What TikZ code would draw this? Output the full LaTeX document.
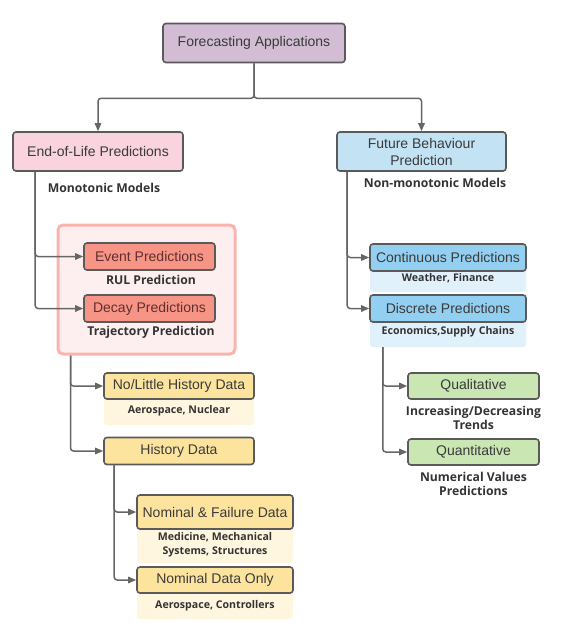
\documentclass[tikz,border=0pt]{standalone}
\usepackage{fontspec}
\setmainfont{Liberation Sans}
\newfontfamily\capfont{Open Sans}
\usetikzlibrary{arrows.meta}
\definecolor{edgec}{HTML}{5A5A5A}
\definecolor{linec}{HTML}{666666}
\definecolor{txtc}{HTML}{3A3A3A}
\definecolor{captc}{HTML}{333333}
\definecolor{purplef}{HTML}{D2BDD4}
\definecolor{pinkf}{HTML}{F9D3DD}
\definecolor{bluef}{HTML}{C3E3F5}
\definecolor{blue2f}{HTML}{93CFF0}
\definecolor{bluesub}{HTML}{E1F1FB}
\definecolor{salmonf}{HTML}{F69585}
\definecolor{grpf}{HTML}{FDEFF0}
\definecolor{grpd}{HTML}{F9B4AE}
\definecolor{yellowf}{HTML}{FDE49E}
\definecolor{creamf}{HTML}{FFF6DF}
\definecolor{greenf}{HTML}{C9E6B3}
\tikzset{
  box/.style={draw=edgec, line width=1.6pt, rounded corners=3pt, inner sep=0pt,
    align=center, text=txtc, font=\fontsize{14}{16}\selectfont},
  subbg/.style={rounded corners=3pt, inner sep=0pt},
  captxt/.style={inner sep=0pt, align=center, text=captc, font=\capfont\bfseries\fontsize{12.2}{14}\selectfont},
  subtxt/.style={inner sep=0pt, align=center, text=captc, font=\capfont\bfseries\fontsize{10.6}{14}\selectfont},
  conn/.style={draw=linec, line width=1.5pt, rounded corners=3pt,
    -{Triangle[length=8pt,width=6.5pt]}},
}
\begin{document}
\begin{tikzpicture}[x=1pt,y=-1pt]
\useasboundingbox (0,0) rectangle (576,638);
% group container
\node[draw=grpd, fill=grpf, line width=3pt, rounded corners=5pt, minimum width=177pt, minimum height=129pt, inner sep=0pt] (grp) at (146.5,289.5) {};
% top
\node[box, fill=purplef, minimum width=182pt, minimum height=39pt] (top) at (254,43) {Forecasting Applications};
\node[box, fill=pinkf, minimum width=170pt, minimum height=39pt] (eol) at (98,151.5) {End-of-Life Predictions};
\node[box, fill=bluef, minimum width=169pt, minimum height=39pt, font=\fontsize{14}{17}\selectfont] (fut) at (421.5,151.5) {Future Behaviour\\Prediction};
\node[captxt] (mono) at (104,188) {Monotonic Models};
\node[captxt] (nonmono) at (435,183) {Non-monotonic Models};
% left group
\node[box, fill=salmonf, minimum width=131pt, minimum height=27pt, text=txtc!80!red] (event) at (149.5,256.5) {Event Predictions};
\node[captxt] (rul) at (151,280) {RUL Prediction};
\node[box, fill=salmonf, minimum width=131pt, minimum height=27pt, text=txtc!80!red] (decay) at (149.5,308.5) {Decay Predictions};
\node[captxt] (traj) at (151,332) {Trajectory Prediction};
% yellow
\node[subbg, fill=creamf, minimum width=150pt, minimum height=28pt] (nlsub) at (179,411) {};
\node[box, fill=yellowf, minimum width=150pt, minimum height=26pt] (nolittle) at (179,386) {No/Little History Data};
\node[subtxt] (nltxt) at (nlsub.center) {Aerospace, Nuclear};
\node[box, fill=yellowf, minimum width=150pt, minimum height=27pt] (history) at (179,451) {History Data};
\node[subbg, fill=creamf, minimum width=156pt, minimum height=36pt] (nfsub) at (215,545) {};
\node[box, fill=yellowf, minimum width=156pt, minimum height=34pt] (nomfail) at (215,512) {Nominal \& Failure Data};
\node[subtxt] (nftxt) at (215,545) {Medicine, Mechanical\\Systems, Structures};
\node[subbg, fill=creamf, minimum width=156pt, minimum height=28pt] (nosub) at (215,605) {};
\node[box, fill=yellowf, minimum width=156pt, minimum height=26pt] (nomonly) at (215,580) {Nominal Data Only};
\node[subtxt] (notxt) at (215,606) {Aerospace, Controllers};
% right blue
\node[subbg, fill=bluesub, minimum width=156pt, minimum height=24pt] (contsub) at (448,280) {};
\node[box, fill=blue2f, minimum width=156pt, minimum height=27pt] (cont) at (448,257.5) {Continuous Predictions};
\node[subtxt] (conttxt) at (448,278) {Weather, Finance};
\node[subbg, fill=bluesub, minimum width=156pt, minimum height=28pt] (discsub) at (448,333) {};
\node[box, fill=blue2f, minimum width=156pt, minimum height=27pt] (disc) at (448,308.5) {Discrete Predictions};
\node[subtxt] (disctxt) at (448,332) {Economics,Supply Chains};
% green
\node[box, fill=greenf, minimum width=131pt, minimum height=26pt] (qual) at (473.5,386) {Qualitative};
\node[captxt] (qualtxt) at (473.5,418) {Increasing/Decreasing\\Trends};
\node[box, fill=greenf, minimum width=131pt, minimum height=26pt] (quant) at (473.5,452) {Quantitative};
\node[captxt] (quanttxt) at (473.5,483.5) {Numerical Values\\Predictions};
% connectors
\coordinate (topb) at ([yshift=-35pt]top.south);
\draw[conn] (top.south) -- (topb) -| (eol.north);
\draw[conn] (top.south) -- (topb) -| (fut.north);
\coordinate (eolL) at ([xshift=23pt]eol.south west);
\draw[conn] (eolL) |- (event.west);
\draw[conn] (eolL) |- (decay.west);
\coordinate (grpL) at ([xshift=14pt]grp.south west);
\draw[conn] (grpL) |- (nolittle.west);
\draw[conn] (grpL) |- (history.west);
\coordinate (hisL) at ([xshift=11pt]history.south west);
\draw[conn] (hisL) |- (nomfail.west);
\draw[conn] (hisL) |- (nomonly.west);
\coordinate (futL) at ([xshift=11pt]fut.south west);
\draw[conn] (futL) |- (cont.west);
\draw[conn] (futL) |- (disc.west);
\coordinate (discL) at ([xshift=13pt]discsub.south west);
\draw[conn] (discL) |- (qual.west);
\draw[conn] (discL) |- (quant.west);
\end{tikzpicture}
\end{document}
